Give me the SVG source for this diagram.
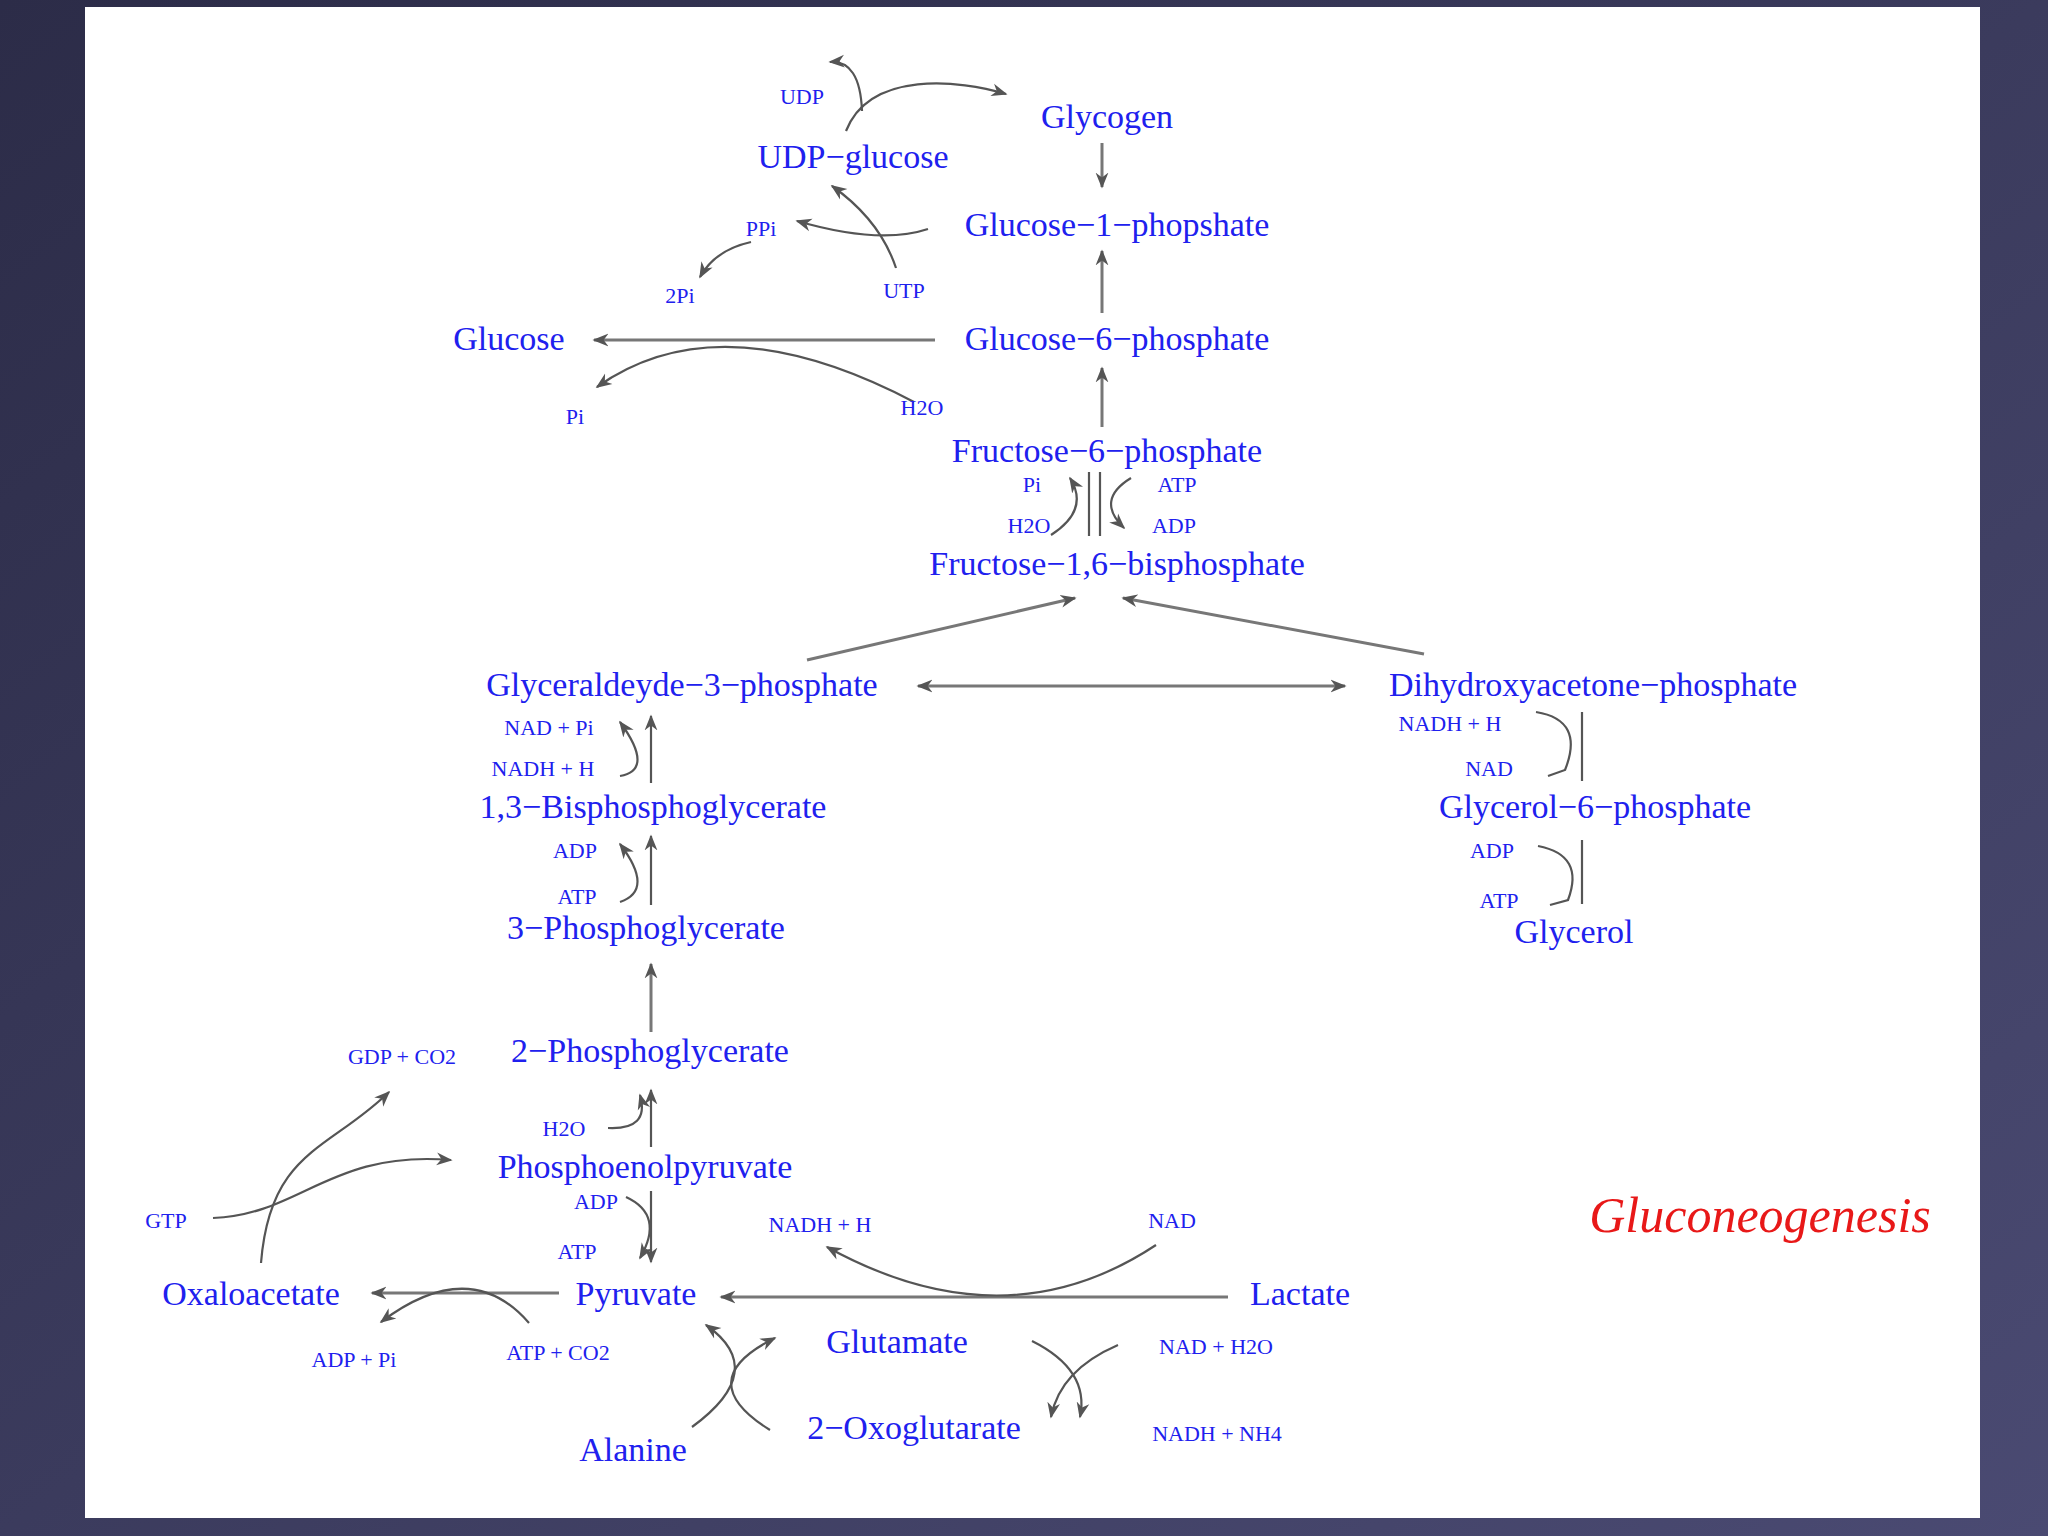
<svg xmlns="http://www.w3.org/2000/svg" width="2048" height="1536" viewBox="0 0 2048 1536">
<defs>
<linearGradient id="bg" x1="0" y1="0" x2="1" y2="1"><stop offset="0" stop-color="#2c2c48"/><stop offset="1" stop-color="#4a4a72"/></linearGradient>
<marker id="ab" viewBox="0 0 10 10" refX="9" refY="5" markerWidth="16" markerHeight="16" markerUnits="userSpaceOnUse" orient="auto-start-reverse"><path d="M0,1 L10,5 L0,9 L3,5 z" fill="#555"/></marker>
</defs>
<style>
.m{font-family:"Liberation Serif",serif;font-size:34px;fill:#2020ee;text-anchor:middle}
.s{font-family:"Liberation Serif",serif;font-size:22px;fill:#2020ee;text-anchor:middle}
.c{fill:none;stroke:#555;stroke-width:2.2}
.l{fill:none;stroke:#777;stroke-width:3}
</style>
<rect width="2048" height="1536" fill="url(#bg)"/>
<rect x="85" y="7" width="1895" height="1511" fill="#fff"/>
<g id="connectors">
<path class="l" d="M1102,143 V187" marker-end="url(#ab)"/>
<path class="l" d="M1102,313 V251" marker-end="url(#ab)"/>
<path class="l" d="M1102,427 V368" marker-end="url(#ab)"/>
<path class="l" d="M935,340 H594" marker-end="url(#ab)"/>
<path class="c" d="M914,402 Q720,300 597,387" marker-end="url(#ab)"/>
<path class="c" d="M846,131 C870,70 960,80 1006,94" marker-end="url(#ab)"/>
<path class="c" d="M862,111 Q860,60 830,62" marker-end="url(#ab)"/>
<path class="c" d="M896,268 Q880,220 832,186" marker-end="url(#ab)"/>
<path class="c" d="M928,229 Q880,245 797,221" marker-end="url(#ab)"/>
<path class="c" d="M751,242 Q715,250 700,277" marker-end="url(#ab)"/>
<path class="c" d="M1089,472 V536 M1100,472 V536"/>
<path class="c" d="M1051,535 Q1090,510 1070,478" marker-end="url(#ab)"/>
<path class="c" d="M1131,478 Q1095,500 1124,528" marker-end="url(#ab)"/>
<path class="l" d="M807,660 L1075,598" marker-end="url(#ab)"/>
<path class="l" d="M1424,654 L1123,598" marker-end="url(#ab)"/>
<path class="l" d="M918,686 H1345" marker-start="url(#ab)" marker-end="url(#ab)"/>
<path class="c" d="M651,783 V716" marker-end="url(#ab)"/>
<path class="c" d="M620,776 Q655,770 620,722" marker-end="url(#ab)"/>
<path class="c" d="M651,905 V836" marker-end="url(#ab)"/>
<path class="c" d="M620,902 Q655,890 620,844" marker-end="url(#ab)"/>
<path class="l" d="M651,1032 V964" marker-end="url(#ab)"/>
<path class="c" d="M651,1147 V1090" marker-end="url(#ab)"/>
<path class="c" d="M608,1128 Q650,1130 640,1095" marker-end="url(#ab)"/>
<path class="c" d="M651,1191 V1262" marker-end="url(#ab)"/>
<path class="c" d="M626,1197 Q665,1215 640,1258" marker-end="url(#ab)"/>
<path class="c" d="M1582,712 V781"/>
<path class="c" d="M1536,712 Q1585,720 1565,770 L1548,776"/>
<path class="c" d="M1582,840 V904"/>
<path class="c" d="M1538,846 Q1585,855 1568,900 L1550,905"/>
<path class="l" d="M1228,1297 H721" marker-end="url(#ab)"/>
<path class="c" d="M1156,1245 Q1005,1345 827,1247" marker-end="url(#ab)"/>
<path class="l" d="M559,1293 H372" marker-end="url(#ab)"/>
<path class="c" d="M529,1323 Q470,1255 381,1322" marker-end="url(#ab)"/>
<path class="c" d="M261,1263 C270,1150 330,1150 389,1092" marker-end="url(#ab)"/>
<path class="c" d="M213,1218 C300,1215 330,1150 451,1160" marker-end="url(#ab)"/>
<path class="c" d="M692,1427 Q770,1370 706,1325" marker-end="url(#ab)"/>
<path class="c" d="M770,1430 Q690,1380 775,1338" marker-end="url(#ab)"/>
<path class="c" d="M1032,1341 Q1090,1370 1080,1417" marker-end="url(#ab)"/>
<path class="c" d="M1118,1345 Q1060,1370 1051,1417" marker-end="url(#ab)"/>
</g>
<g id="glycogen"><text class="m" x="1107" y="128">Glycogen</text></g>
<g id="udpglucose"><text class="m" x="853" y="168">UDP−glucose</text></g>
<g id="g1p"><text class="m" x="1117" y="236">Glucose−1−phopshate</text></g>
<g id="glucose"><text class="m" x="509" y="350">Glucose</text></g>
<g id="g6p"><text class="m" x="1117" y="350">Glucose−6−phosphate</text></g>
<g id="f6p"><text class="m" x="1107" y="462">Fructose−6−phosphate</text></g>
<g id="f16bp"><text class="m" x="1117" y="575">Fructose−1,6−bisphosphate</text></g>
<g id="gap"><text class="m" x="682" y="696">Glyceraldeyde−3−phosphate</text></g>
<g id="dhap"><text class="m" x="1593" y="696">Dihydroxyacetone−phosphate</text></g>
<g id="bpg"><text class="m" x="653" y="818">1,3−Bisphosphoglycerate</text></g>
<g id="g6p2"><text class="m" x="1595" y="818">Glycerol−6−phosphate</text></g>
<g id="pg3"><text class="m" x="646" y="939">3−Phosphoglycerate</text></g>
<g id="glycerol"><text class="m" x="1574" y="943">Glycerol</text></g>
<g id="pg2"><text class="m" x="650" y="1062">2−Phosphoglycerate</text></g>
<g id="pep"><text class="m" x="645" y="1178">Phosphoenolpyruvate</text></g>
<g id="oaa"><text class="m" x="251" y="1305">Oxaloacetate</text></g>
<g id="pyruvate"><text class="m" x="636" y="1305">Pyruvate</text></g>
<g id="lactate"><text class="m" x="1300" y="1305">Lactate</text></g>
<g id="glutamate"><text class="m" x="897" y="1353">Glutamate</text></g>
<g id="oxoglutarate"><text class="m" x="914" y="1439">2−Oxoglutarate</text></g>
<g id="alanine"><text class="m" x="633" y="1461">Alanine</text></g>
<g id="labels">
<text class="s" x="802" y="104">UDP</text>
<text class="s" x="761" y="236">PPi</text>
<text class="s" x="680" y="303">2Pi</text>
<text class="s" x="904" y="298">UTP</text>
<text class="s" x="575" y="424">Pi</text>
<text class="s" x="922" y="415">H2O</text>
<text class="s" x="1032" y="492">Pi</text>
<text class="s" x="1177" y="492">ATP</text>
<text class="s" x="1029" y="533">H2O</text>
<text class="s" x="1174" y="533">ADP</text>
<text class="s" x="549" y="735">NAD + Pi</text>
<text class="s" x="543" y="776">NADH + H</text>
<text class="s" x="1450" y="731">NADH + H</text>
<text class="s" x="1489" y="776">NAD</text>
<text class="s" x="575" y="858">ADP</text>
<text class="s" x="577" y="904">ATP</text>
<text class="s" x="1492" y="858">ADP</text>
<text class="s" x="1499" y="908">ATP</text>
<text class="s" x="402" y="1064">GDP + CO2</text>
<text class="s" x="564" y="1136">H2O</text>
<text class="s" x="596" y="1209">ADP</text>
<text class="s" x="166" y="1228">GTP</text>
<text class="s" x="820" y="1232">NADH + H</text>
<text class="s" x="1172" y="1228">NAD</text>
<text class="s" x="577" y="1259">ATP</text>
<text class="s" x="1216" y="1354">NAD + H2O</text>
<text class="s" x="354" y="1367">ADP + Pi</text>
<text class="s" x="558" y="1360">ATP + CO2</text>
<text class="s" x="1217" y="1441">NADH + NH4</text>
</g>
<g id="title"><text x="1760" y="1232" font-family="Liberation Serif, serif" font-style="italic" font-size="50" fill="#e81818" text-anchor="middle">Gluconeogenesis</text></g>
</svg>
